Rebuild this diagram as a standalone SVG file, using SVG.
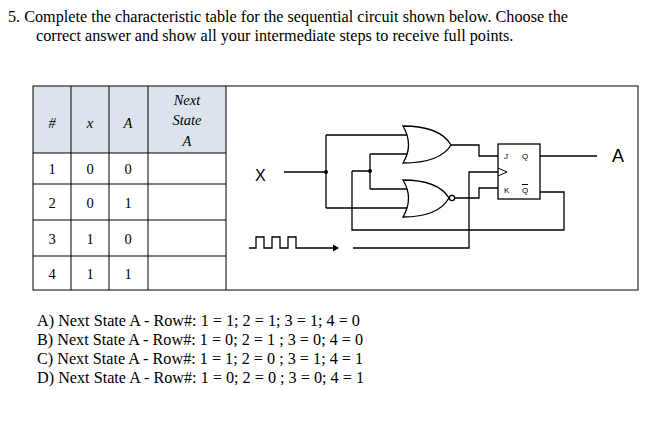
<svg xmlns="http://www.w3.org/2000/svg" width="670" height="440" viewBox="0 0 670 440">
<style>
.t{font-family:"Liberation Serif",serif;font-size:16.2px;fill:#000}
.c{font-family:"Liberation Serif",serif;font-size:14.5px;text-anchor:middle}
.i{font-style:italic}
.s{font-family:"Liberation Sans",sans-serif}
.w{fill:none;stroke:#000;stroke-width:1.3}
.g{fill:#fff;stroke:#000;stroke-width:1.3}
.b{fill:none;stroke:#000;stroke-width:1}
</style>
<rect width="670" height="440" fill="#fff"/>
<text class="t" x="8" y="22">5.  Complete the characteristic table for the sequential circuit shown below. Choose the</text>
<text class="t" x="36" y="41">correct answer and show all your intermediate steps to receive full points.</text>
<g id="table">
<rect x="33" y="86" width="193" height="67" fill="#dde3ec"/>
<rect x="33" y="86" width="605" height="204" class="b"/>
<path class="b" d="M71 86V290M109 86V290M148 86V290M226 86V290M33 153H226M33 184H226M33 220H226M33 256H226"/>
<text class="c i" x="52" y="128">#</text>
<text class="c i" x="90" y="128">x</text>
<text class="c i" x="128" y="128">A</text>
<text class="c i" x="187" y="105">Next</text>
<text class="c i" x="187" y="125">State</text>
<text class="c i" x="187" y="146">A</text>
<text class="c" x="52" y="174">1</text><text class="c" x="90" y="174">0</text><text class="c" x="128" y="174">0</text>
<text class="c" x="52" y="208">2</text><text class="c" x="90" y="208">0</text><text class="c" x="128" y="208">1</text>
<text class="c" x="52" y="244">3</text><text class="c" x="90" y="244">1</text><text class="c" x="128" y="244">0</text>
<text class="c" x="52" y="279">4</text><text class="c" x="90" y="279">1</text><text class="c" x="128" y="279">1</text>
</g>
<g id="connectors">
<path class="w" d="M284 172H326M326 135V208M326 135H410M326 208H410M370 154V189M370 154H410M370 189H410M352 171H370"/>
<path class="w" d="M451 145H479V156H498M455 198H479V188H498M540 156H597M540 192H564V230H352V171"/>
<path class="w" d="M249 248H256V237H264V248H272V237H280V248H288V237H296V248H335"/>
<path d="M333 244.5L339 248L333 251.5Z"/>
<path class="w" d="M353 248H469V172H498"/>
<circle cx="326" cy="172" r="2"/><circle cx="370" cy="171" r="2"/>
</g>
<g id="or">
<path class="g" d="M403 126Q440 126 451 145Q440 163 403 163Q414 145 403 126Z"/>
</g>
<g id="nor">
<path class="g" d="M403 180Q438 180 449 198Q438 217 403 217Q414 198 403 180Z"/>
<circle class="g" cx="452" cy="198" r="2.6"/>
</g>
<g id="ff">
<rect class="g" x="498" y="144" width="42" height="55"/>
<path class="b" d="M498 168L507 172L498 176"/>
<text class="s" x="504" y="159" font-size="8">J</text>
<text class="s" x="504" y="193" font-size="8">K</text>
<text class="s" x="522" y="159" font-size="8">Q</text>
<text class="s" x="522" y="193" font-size="8">Q</text>
<path class="b" d="M522 184.5H528"/>
</g>
<text class="s" x="255" y="181" font-size="16">X</text>
<text class="s" x="612" y="162" font-size="18">A</text>
<g class="t">
<text x="37" y="326">A) Next State A - Row#: 1 =  1; 2 = 1; 3 = 1; 4 = 0</text>
<text x="37" y="345">B) Next State A - Row#: 1 =  0; 2 = 1 ; 3 = 0; 4 = 0</text>
<text x="37" y="364">C) Next State A - Row#: 1 =  1; 2 = 0 ; 3 = 1; 4 = 1</text>
<text x="37" y="383">D) Next State A - Row#: 1 =  0; 2 = 0 ; 3 = 0; 4 = 1</text>
</g>
</svg>
